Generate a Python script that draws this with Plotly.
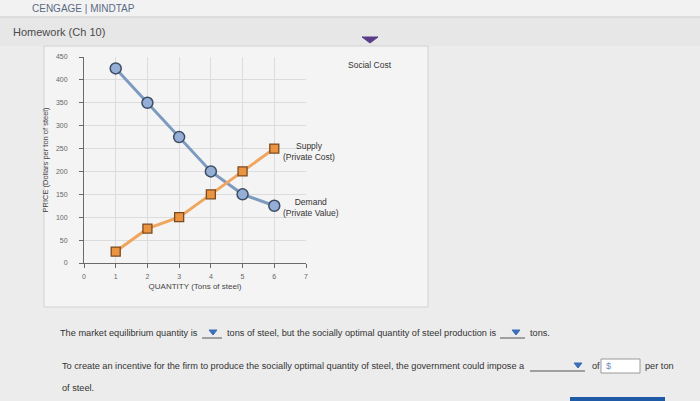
import plotly.graph_objects as go

# ---- data ----
quantity = [1, 2, 3, 4, 5, 6]
demand_price = [425, 350, 275, 200, 150, 125]
supply_price = [25, 75, 100, 150, 200, 250]
x_ticks = [0, 1, 2, 3, 4, 5, 6, 7]
y_ticks = [0, 50, 100, 150, 200, 250, 300, 350, 400, 450]

demand_label = "Demand<br>(Private Value)"
supply_label = "Supply<br>(Private Cost)"
social_label = "Social Cost"
x_title = "QUANTITY (Tons of steel)"
y_title = "PRICE (Dollars per ton of steel)"
page_title = "Homework (Ch 10)"
brand = "CENGAGE | MINDTAP"
q1_a = "The market equilibrium quantity is"
q1_b = "tons of steel, but the socially optimal quantity of steel production is"
q1_c = "tons."
q2_a = "To create an incentive for the firm to produce the socially optimal quantity of steel, the government could impose a"
q2_b = "of"
q2_c = "$"
q2_d = "per ton"
q3 = "of steel."

# ---- geometry (pixels) ----
FW, FH = 700, 401
L, T, R, B = 84, 57, 306, 263
W, H = R - L, B - T


def px(x):
    return (x - L) / W


def py(y):
    return (B - y) / H


FONT = "Liberation Sans, Arial, sans-serif"

fig = go.Figure()

fig.add_trace(go.Scatter(
    x=quantity, y=demand_price, mode="lines+markers", name="Demand",
    line=dict(color="#7d9ac0", width=3),
    marker=dict(symbol="circle", size=11, color="#95aed6",
                line=dict(color="#3d4c63", width=1.5)),
    showlegend=False, cliponaxis=False,
))
fig.add_trace(go.Scatter(
    x=quantity, y=supply_price, mode="lines+markers", name="Supply",
    line=dict(color="#f0a65e", width=3),
    marker=dict(symbol="square", size=9, color="#eb9440",
                line=dict(color="#7a4a22", width=1.3)),
    showlegend=False, cliponaxis=False,
))

shapes = []
# page header / title bar
shapes.append(dict(type="rect", xref="paper", yref="paper", layer="below",
                   x0=px(0), x1=px(FW), y0=py(0), y1=py(16),
                   fillcolor="#f2f2f2", line=dict(width=0)))
shapes.append(dict(type="rect", xref="paper", yref="paper", layer="below",
                   x0=px(0), x1=px(FW), y0=py(17), y1=py(46),
                   fillcolor="#e7e7e7", line=dict(width=0)))
shapes.append(dict(type="line", xref="paper", yref="paper", layer="below",
                   x0=px(0), x1=px(FW), y0=py(17), y1=py(17),
                   line=dict(color="#cfcfcf", width=1)))
# graph panel
shapes.append(dict(type="rect", xref="paper", yref="paper", layer="below",
                   x0=px(44), x1=px(428), y0=py(46), y1=py(307),
                   fillcolor="#f4f4f4", line=dict(color="#d2d2d2", width=1)))
# social cost tool icon (chevron)
shapes.append(dict(type="path", xref="paper", yref="paper",
                   path=f"M {px(362)},{py(37)} L {px(378)},{py(37)} L {px(370)},{py(43)} Z",
                   fillcolor="#5a3c8a", line=dict(color="#5a3c8a", width=1)))


def dropdown(x0, x1, ax, y):
    shapes.append(dict(type="line", xref="paper", yref="paper",
                       x0=px(x0), x1=px(x1), y0=py(y + 5), y1=py(y + 5),
                       line=dict(color="#555555", width=1)))
    shapes.append(dict(type="path", xref="paper", yref="paper",
                       path=f"M {px(ax-4)},{py(y-3)} L {px(ax+4)},{py(y-3)} L {px(ax)},{py(y+2)} Z",
                       fillcolor="#3a6fb8", line=dict(color="#3a6fb8", width=1)))


Y1, Y2, Y3 = 333, 366, 388
dropdown(202, 222, 213, Y1)
dropdown(500, 525, 516, Y1)
dropdown(530, 585, 578, Y2)
# input box
shapes.append(dict(type="rect", xref="paper", yref="paper",
                   x0=px(601), x1=px(640), y0=py(Y2 - 7), y1=py(Y2 + 7),
                   fillcolor="#ffffff", line=dict(color="#9a9a9a", width=1)))
# button top edge bottom right
shapes.append(dict(type="rect", xref="paper", yref="paper",
                   x0=px(570), x1=px(665), y0=py(397), y1=py(401),
                   fillcolor="#1f5aa6", line=dict(width=0)))

ann = []


def text(t, x, y, size=8, color="#333333", xa="left", ya="middle"):
    ann.append(dict(text=t, x=px(x), y=py(y), xref="paper", yref="paper",
                    xanchor=xa, yanchor=ya, showarrow=False,
                    font=dict(family=FONT, size=size, color=color)))


text(brand, 30, 1, size=10, color="#5b6b84", ya="top")
text(page_title, 11, 32, size=11, color="#4a4a4a")
text(social_label, 370, 65, size=8.5, color="#333333", xa="center")
ann.append(dict(text=supply_label, x=px(309), y=py(151), xref="paper", yref="paper",
                xanchor="center", yanchor="middle", showarrow=False, align="center",
                font=dict(family=FONT, size=8.5, color="#333333")))
ann.append(dict(text=demand_label, x=px(311), y=py(207), xref="paper", yref="paper",
                xanchor="center", yanchor="middle", showarrow=False, align="center",
                font=dict(family=FONT, size=8.5, color="#333333")))
QS = 9.2
text(q1_a, 58, Y1, size=QS)
text(q1_b, 225, Y1, size=QS)
text(q1_c, 528, Y1, size=QS)
text(q2_a, 60, Y2, size=QS)
text(q2_b, 590, Y2, size=QS)
text(q2_c, 604, Y2, size=QS, color="#6a8fb8")
text(q2_d, 643, Y2, size=QS)
text(q3, 60, Y3, size=QS)

fig.update_layout(
    width=FW, height=FH,
    margin=dict(l=L, r=FW - R, t=T, b=FH - B, autoexpand=False),
    paper_bgcolor="#ececec",
    plot_bgcolor="#f4f4f4",
    shapes=shapes,
    annotations=ann,
    font=dict(family=FONT, color="#555555"),
)
fig.update_xaxes(
    range=[0, 7], tickvals=x_ticks, ticktext=[str(v) for v in x_ticks],
    showgrid=True, gridcolor="#dcdcdc", gridwidth=1, zeroline=False,
    showline=True, linecolor="#6a6a6a", linewidth=1,
    ticks="outside", ticklen=4, tickcolor="#6a6a6a",
    tickfont=dict(size=7, color="#666666"), ticklabelstandoff=3,
    title=dict(text=x_title, font=dict(size=8, color="#444444"), standoff=3),
    fixedrange=True,
)
fig.update_yaxes(
    range=[0, 450], tickvals=y_ticks, ticktext=[str(v) for v in y_ticks],
    showgrid=True, gridcolor="#dcdcdc", gridwidth=1, zeroline=False,
    showline=True, linecolor="#6a6a6a", linewidth=1,
    ticks="outside", ticklen=4, tickcolor="#6a6a6a",
    tickfont=dict(size=7, color="#666666"), ticklabelstandoff=10,
    title=dict(text=y_title, font=dict(size=7.5, color="#444444"), standoff=6),
    fixedrange=True,
)

fig.write_html("out.html", config={"displayModeBar": False},
               post_script="document.body.style.margin='0';document.body.style.overflow='hidden';")
